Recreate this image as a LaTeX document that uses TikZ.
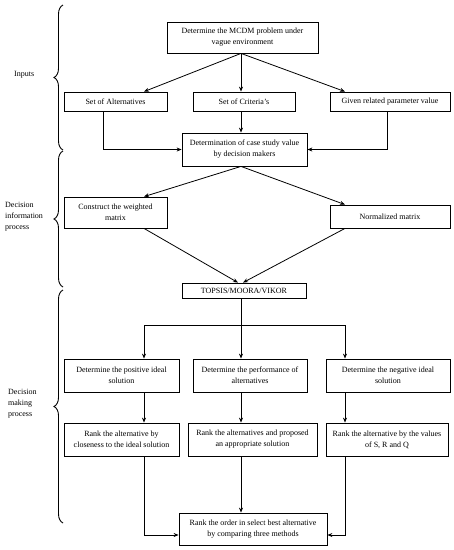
\documentclass[tikz,border=0pt]{standalone}
\usepackage{fontspec}
\setmainfont{Liberation Serif}
\usetikzlibrary{arrows.meta,decorations.pathreplacing,calc}
\begin{document}
\begin{tikzpicture}[x=1pt,y=-1pt,
  box/.style={draw,line width=0.8pt,align=center,inner sep=0pt,
    font=\fontsize{8}{11}\selectfont},
  lbl/.style={align=left,anchor=west,inner sep=0pt,font=\fontsize{8}{11}\selectfont},
  conn/.style={line width=0.8pt,-{Stealth[length=5pt,width=4pt]}},
  plain/.style={line width=0.8pt},
  brc/.style={line width=0.9pt,decorate,decoration={brace,amplitude=9pt}}]
\useasboundingbox (0,0) rectangle (454,550);
\coordinate (cL) at (144,0);
\coordinate (cM) at (241,0);
\coordinate (cR) at (345,0);
\coordinate (cA) at (103,0);
\coordinate (cG) at (387,0);
% boxes
\node[box,minimum width=151pt,minimum height=31pt] (top) at (242.5,37.5) {Determine the MCDM problem under\\vague environment};
\node[box,minimum width=103pt,minimum height=19pt] (alt) at (115.5,101.5) {Set of Alternatives};
\node[box,minimum width=102pt,minimum height=19pt] (crit) at (244,101.5) {Set of Criteria's};
\node[box,minimum width=120pt,minimum height=19pt] (given) at (390,101.5) {Given related parameter value};
\node[box,minimum width=125pt,minimum height=33pt] (det) at (244.5,149.5) {Determination of case study value\\by decision makers};
\node[box,minimum width=103pt,minimum height=31pt] (cons) at (115.5,212.5) {Construct the weighted\\matrix};
\node[box,minimum width=120pt,minimum height=23pt] (norm) at (390,216.5) {Normalized matrix};
\node[box,minimum width=124pt,minimum height=15pt] (topsis) at (244,290.5) {TOPSIS/MOORA/VIKOR};
\node[box,minimum width=115pt,minimum height=33pt] (pos) at (121.5,375.5) {Determine the positive ideal\\solution};
\node[box,minimum width=114pt,minimum height=33pt] (perf) at (250,375.5) {Determine the performance of\\alternatives};
\node[box,minimum width=124pt,minimum height=33pt] (neg) at (388,375.5) {Determine the negative ideal\\solution};
\node[box,minimum width=115pt,minimum height=33pt] (r1) at (121.5,439.5) {Rank the alternative by\\closeness to the ideal solution};
\node[box,minimum width=129pt,minimum height=33pt] (r2) at (252.5,439.5) {Rank the alternatives and proposed\\an appropriate solution};
\node[box,minimum width=122pt,minimum height=33pt] (r3) at (387,439.5) {Rank the alternative by the values\\of S, R and Q};
\node[box,minimum width=148pt,minimum height=32pt] (fin) at (253,529) {Rank the order in select best alternative\\by comparing three methods};
% connectors
\draw[conn] (top.south -| cM) -- (alt.north -| cL);
\draw[conn] (top.south -| cM) -- (crit.north -| cM);
\draw[conn] (top.south -| cM) -- (given.north -| cR);
\draw[conn] (alt.south -| cA) |- (det.west);
\draw[conn] (crit.south -| cM) -- (det.north -| cM);
\draw[conn] (given.south -| cG) |- (det.east);
\draw[conn] (det.south -| cM) -- (cons.north -| cL);
\draw[conn] (det.south -| cM) -- (norm.north -| cR);
\draw[conn] (cons.south -| cL) -- ([xshift=-3pt]topsis.north -| cM);
\draw[conn] (norm.south -| cR) -- ([xshift=2pt]topsis.north -| cM);
\coordinate (split) at ($(topsis.south -| cM)+(0,27)$);
\draw[plain] (topsis.south -| cM) -- (split);
\draw[conn] (split -| cL) -- (pos.north -| cL);
\draw[conn] (split -| cL) -- (split -| cR) -- (neg.north -| cR);
\draw[conn] (split) -- (perf.north -| cM);
\draw[conn] (pos.south -| cL) -- (r1.north -| cL);
\draw[conn] (perf.south -| cM) -- (r2.north -| cM);
\draw[conn] (neg.south -| cR) -- (r3.north -| cR);
\draw[conn] (r1.south -| cL) |- ([yshift=-6pt]fin.west);
\draw[conn] (r2.south -| cM) -- (fin.north -| cM);
\draw[conn] (r3.south -| cR) |- ([yshift=-6pt]fin.east);
% braces
\draw[brc] (63,150) -- (63,5);
\draw[brc] (63,287) -- (63,151);
\draw[brc] (63,523) -- (63,290);
\node[lbl] (l1) at (14,75) {Inputs};
\node[lbl] (l2) at (5,217) {Decision\\information\\process};
\node[lbl] (l3) at (8,404) {Decision\\making\\process};
\end{tikzpicture}
\end{document}
